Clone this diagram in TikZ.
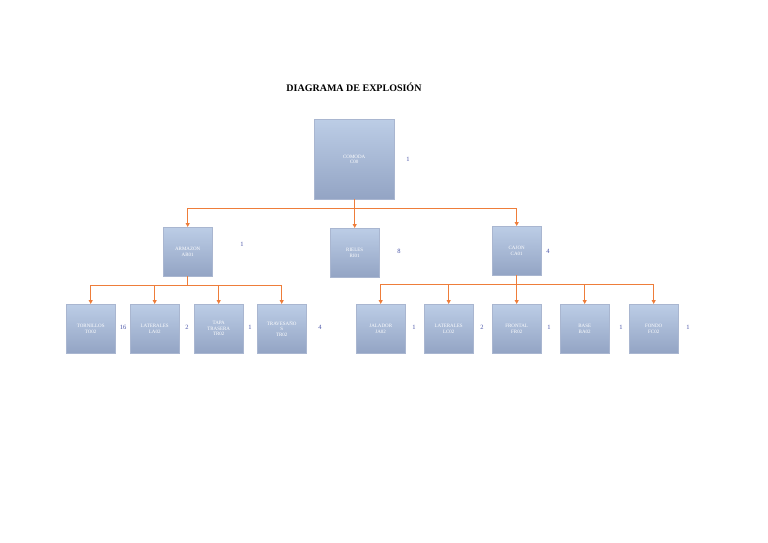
\documentclass[tikz,border=0pt]{standalone}
\usepackage{fontspec}
\setmainfont{Liberation Serif}
\usetikzlibrary{arrows.meta}
\definecolor{boxt}{HTML}{BCCDE6}
\definecolor{boxb}{HTML}{93A4C4}
\definecolor{orl}{HTML}{EE7D3A}
\definecolor{numc}{HTML}{4A55A8}
\tikzset{
  bx/.style={draw=boxb!80!white,line width=0.4pt,top color=boxt,bottom color=boxb,minimum width=#1,minimum height=#1,inner sep=1pt,align=center,text=white,font=\fontsize{5}{5.5}\selectfont,anchor=north west},
  num/.style={text=numc,font=\fontsize{6.5}{7}\selectfont},
  con/.style={draw=orl,line width=1.1pt,-{Triangle[length=4pt,width=4pt]}},
}
\begin{document}
\begin{tikzpicture}[x=1pt,y=-1pt]
\useasboundingbox (0,0) rectangle (768,543);
\node[font=\bfseries\fontsize{10}{12}\selectfont] (title) at (354,87) {DIAGRAMA DE EXPLOSIÓN};
\node[bx=80pt] (c) at (314,119) {COMODA\\C00};
\node[bx=49pt] (ar) at (163,227) {ARMAZON\\AR01};
\node[bx=49pt] (ri) at (330,228) {RIELES\\RI01};
\node[bx=49pt] (ca) at (492,226) {CAJON\\CA01};
\node[bx=49pt] (to) at (66,304) {TORNILLOS\\TO02};
\node[bx=49pt] (la) at (130,304) {LATERALES\\LA02};
\node[bx=49pt] (ta) at (194,304) {TAPA\\TRASERA\\TR02};
\node[bx=49pt] (tv) at (257,304) {TRAVESAÑO\\S\\TR02};
\node[bx=49pt] (ja) at (356,304) {JALADOR\\JA02};
\node[bx=49pt] (lc) at (424,304) {LATERALES\\LC02};
\node[bx=49pt] (fr) at (492,304) {FRONTAL\\FR02};
\node[bx=49pt] (ba) at (560,304) {BASE\\BA02};
\node[bx=49pt] (fc) at (629,304) {FONDO\\FC02};
\foreach \t in {ar,ri,ca} \draw[con] (c.south) -- ++(0,9) -| (\t.north);
\foreach \t in {to,la,ta,tv} \draw[con] (ar.south) -- ++(0,9) -| (\t.north);
\foreach \t in {ja,lc,fr,ba,fc} \draw[con] (ca.south) -- ++(0,9) -| (\t.north);
\node[num] (n1) at (408,159) {1};
\node[num] (n2) at (242,244) {1};
\node[num] (n3) at (399,251) {8};
\node[num] (n4) at (548,251) {4};
\node[num] (n5) at (123,327) {16};
\node[num] (n6) at (187,327) {2};
\node[num] (n7) at (250,327) {1};
\node[num] (n8) at (320,327) {4};
\node[num] (n9) at (414,327) {1};
\node[num] (n10) at (482,327) {2};
\node[num] (n11) at (549,327) {1};
\node[num] (n12) at (621,327) {1};
\node[num] (n13) at (688,327) {1};
\end{tikzpicture}
\end{document}
